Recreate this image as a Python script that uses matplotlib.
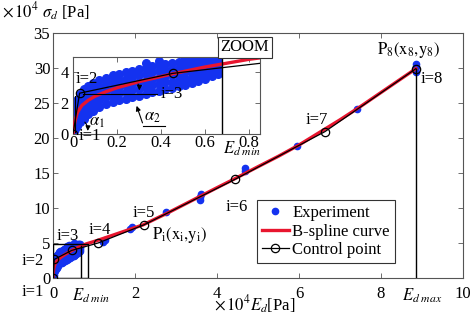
import matplotlib
matplotlib.use('Agg')
import matplotlib.pyplot as plt
from matplotlib.patches import Rectangle
import matplotlib.transforms as mtransforms

plt.rcParams['font.family'] = 'serif'
plt.rcParams['font.serif'] = ['Liberation Serif', 'DejaVu Serif']
plt.rcParams['mathtext.fontset'] = 'stix'
plt.rcParams['font.size'] = 12

# ---------------- data ----------------
# dense experimental cloud near the origin (columns of points)
exp_cloud_x = [0.000, 0.005, 0.010, 0.020, 0.030, 0.050, 0.070, 0.090, 0.120,
               0.150, 0.180, 0.210, 0.240, 0.270, 0.300, 0.330, 0.360, 0.390,
               0.420, 0.450, 0.480, 0.510, 0.540, 0.570, 0.600, 0.630, 0.660]
exp_cloud_y = [
    [0.0, 0.15, 0.3, 0.45],
    [0.2, 0.6, 1.0, 1.3],
    [0.3, 0.8, 1.2, 1.6],
    [0.5, 1.0, 1.5, 1.9, 2.2],
    [0.8, 1.3, 1.8, 2.2, 2.6],
    [1.0, 1.5, 2.0, 2.5, 2.9],
    [1.3, 1.8, 2.2, 2.7, 3.1],
    [1.5, 1.95, 2.4, 2.85, 3.3],
    [1.75, 2.2, 2.6, 3.05, 3.5],
    [1.95, 2.4, 2.8, 3.25, 3.65],
    [2.1, 2.5, 2.95, 3.4, 3.8],
    [2.2, 2.65, 3.05, 3.5, 3.9],
    [2.3, 2.75, 3.15, 3.6, 4.0],
    [2.4, 2.85, 3.25, 3.7, 4.1],
    [2.5, 2.95, 3.35, 3.8, 4.2],
    [2.6, 3.05, 3.45, 3.9, 4.3, 4.6],
    [2.7, 3.15, 3.55, 4.0, 4.4],
    [2.8, 3.25, 3.65, 4.1, 4.5, 4.75],
    [2.9, 3.35, 3.75, 4.15, 4.55],
    [3.0, 3.4, 3.8, 4.2, 4.6],
    [3.1, 3.5, 3.9, 4.3, 4.65],
    [3.2, 3.6, 4.0, 4.35, 4.7, 4.95],
    [3.3, 3.7, 4.05, 4.4, 4.75],
    [3.45, 3.8, 4.15, 4.5, 4.8],
    [3.6, 3.9, 4.25, 4.55, 4.85],
    [3.75, 4.05, 4.35, 4.6, 4.85],
    [3.9, 4.15, 4.4, 4.6, 4.8],
]
# sparse experimental points
exp_x = [1.22, 1.27, 1.88, 1.92, 2.75, 3.59, 3.59, 3.60, 4.68, 4.68, 5.95, 7.41, 8.85, 8.85, 8.85]
exp_y = [5.2, 5.5, 7.0, 7.3, 9.4, 11.2, 11.6, 12.0, 15.3, 15.7, 18.9, 24.1, 29.5, 30.1, 30.6]

# B-spline curve
curve_x = [0, 0.005, 0.01, 0.02, 0.04, 0.07, 0.1, 0.15, 0.2, 0.3, 0.45, 0.6, 0.8,
           1.1, 1.6, 2.2, 2.8, 3.4, 4.0, 4.44, 5.0, 5.5, 6.0, 6.5, 7.0, 7.5, 8.0, 8.5, 8.85]
curve_y = [0, 0.5, 0.9, 1.4, 1.85, 2.2, 2.45, 2.75, 3.0, 3.4, 3.9, 4.35, 4.85,
           5.4, 6.4, 7.6, 9.3, 11.1, 12.9, 14.2, 15.9, 17.4, 19.0, 20.8, 22.6, 24.5, 26.5, 28.5, 29.9]

# control points
cp_x = [0.0, 0.03, 0.455, 1.1, 2.22, 4.44, 6.63, 8.85]
cp_y = [0.0, 2.65, 3.94, 5.0, 7.6, 14.1, 20.9, 29.9]

e_d_min = 0.675
e_d_max = 8.85

main_xticks = [0, 2, 4, 6, 8, 10]
main_yticks = [0, 5, 10, 15, 20, 25, 30, 35]
inset_xticks = [0, 0.2, 0.4, 0.6, 0.8]
inset_xticklabels = ['0', '0.2', '0.4', '0.6', '0.8']
inset_yticks = [0, 2, 4]

BLUE = '#1432f0'
RED = '#e8152e'
SPINE = '#555555'

cloud_x = []
cloud_y = []
for cx, ys in zip(exp_cloud_x, exp_cloud_y):
    for yy in ys:
        cloud_x.append(cx)
        cloud_y.append(yy)
all_x = cloud_x + exp_x
all_y = cloud_y + exp_y

fig = plt.figure(figsize=(4.74, 3.25), dpi=100)
ax = fig.add_axes([53/474, 1-278/325, 410/474, 245/325])


def style(a, xpad, ypad):
    a.tick_params(direction='in', top=True, right=True, length=3.5, width=0.6,
                  color=SPINE, labelsize=12)
    a.tick_params(axis='x', pad=xpad)
    a.tick_params(axis='y', pad=ypad)
    for s in a.spines.values():
        s.set_color(SPINE)
        s.set_linewidth(0.8)


# ---- main axes ----
ax.plot(all_x, all_y, 'o', color=BLUE, ms=4.5, mec=BLUE, ls='none', label='Experiment', zorder=2)
ax.plot(curve_x, curve_y, '-', color=RED, lw=2.4, label='B-spline curve', zorder=3)
ax.plot(cp_x, cp_y, '-o', color='black', lw=0.9, ms=6, mfc='none', mew=0.9,
        label='Control point', zorder=4)
ax.plot([e_d_max, e_d_max], [0, cp_y[-1]], color='black', lw=1.0, zorder=4)
ax.plot([e_d_min, e_d_min], [0, 4.6], color='black', lw=1.0, zorder=4)
ax.add_patch(Rectangle((0, 0), 0.85, 4.9, fill=False, ec='black', lw=1.0, zorder=5))
ax.set_xlim(0, 10)
ax.set_ylim(0, 35)
ax.set_xticks(main_xticks)
ax.set_yticks(main_yticks)
style(ax, 6, 2)

trans = mtransforms.blended_transform_factory(ax.transData, ax.transAxes)
ax.text(0.46, -0.035, r'$E_{d\ min}$', transform=trans, ha='left', va='top', fontsize=12)
ax.text(8.51, -0.035, r'$E_{d\ max}$', transform=trans, ha='left', va='top', fontsize=12)

lab = dict(fontsize=12, ha='center', va='center', clip_on=False)
ax.text(-0.49, -2.0, 'i=1', **lab)
ax.text(-0.49, 2.4, 'i=2', **lab)
ax.text(0.37, 6.0, 'i=3', **lab)
ax.text(1.15, 6.9, 'i=4', **lab)
ax.text(2.22, 9.3, 'i=5', **lab)
ax.text(3.1, 6.2, r'$\mathrm{P_i(x_i{,}y_i)}$', **lab)
ax.text(4.49, 10.1, 'i=6', **lab)
ax.text(6.44, 22.6, 'i=7', **lab)
ax.text(8.66, 32.6, r'$\mathrm{P_8(x_8{,}y_8)}$', **lab)
ax.text(9.24, 28.4, 'i=8', **lab)

leg = ax.legend(loc='lower left', bbox_to_anchor=(0.4976, 0.061), borderaxespad=0,
                fancybox=False, edgecolor='#333333', framealpha=1, fontsize=12,
                handlelength=1.6, handletextpad=0.2, labelspacing=0.15, borderpad=0.3)
leg.get_frame().set_linewidth(0.8)

# ---- inset ----
ins = fig.add_axes([73/474, 1-134/325, 187/474, 77/325])
ins.plot(all_x, all_y, 'o', color=BLUE, ms=5.5, mec=BLUE, ls='none', zorder=2)
ins.plot(curve_x, curve_y, '-', color=RED, lw=2.4, zorder=3)
ins.plot(cp_x, cp_y, '-o', color='black', lw=0.9, ms=6, mfc='none', mew=0.9, zorder=4)
ins.plot([e_d_min, e_d_min], [0, 5], color='black', lw=1.0, zorder=4)
ins.plot([0.01, 0.01], [0.1, 2.5], color='black', lw=0.8, zorder=4)
ins.plot([0.045, 0.38], [2.62, 2.62], color='black', lw=0.8, zorder=4)
ins.set_xlim(0, 0.85)
ins.set_ylim(0, 5)
ins.set_xticks(inset_xticks)
ins.set_xticklabels(inset_xticklabels)
ins.set_yticks(inset_yticks)
style(ins, 1, 3)
itrans = mtransforms.blended_transform_factory(ins.transData, ins.transAxes)
ins.text(0.68, -0.07, r'$E_{d\ min}$', transform=itrans, ha='left', va='top', fontsize=12)

ilab = dict(fontsize=12, ha='center', va='center', clip_on=False, zorder=6)
ins.text(0.064, 3.55, 'i=2', **ilab)
ins.text(0.40, 2.6, 'i=3', fontsize=12, ha='left', va='center', zorder=6)
ins.text(0.075, -0.15, 'i=1', **ilab)
ins.text(0.11, 0.8, r'$\alpha_1$', **ilab)
ins.text(0.36, 1.1, r'$\alpha_2$', **ilab)
ins.plot([0.32, 0.42], [0.55, 0.55], color='black', lw=0.8, zorder=6)
ins.annotate('', xy=(0.285, 2.0), xytext=(0.32, 0.55),
             arrowprops=dict(arrowstyle='-|>', color='black', lw=0.8, mutation_scale=7))
ins.annotate('', xy=(0.30, 2.65), xytext=(0.29, 3.4),
             arrowprops=dict(arrowstyle='-|>', color='black', lw=0.8, mutation_scale=7,
                             connectionstyle='arc3,rad=-0.2'))
ins.annotate('', xy=(0.065, 0.02), xytext=(0.045, 0.9),
             arrowprops=dict(arrowstyle='-|>', color='black', lw=0.8, mutation_scale=7,
                             connectionstyle='arc3,rad=-0.3'))

fig.text(245/474, 1-47/325, 'ZOOM', ha='center', va='center', fontsize=12, zorder=10,
         bbox=dict(boxstyle='square,pad=0.15', fc='white', ec='#333333', lw=0.8))

fig.text(2/474, 1-12/325, r'$\times\,10^4\ \sigma_d$ [Pa]', ha='left', va='center', fontsize=12)
fig.text(255/474, 1-305/325, r'$\times\,10^4 E_d$[Pa]', ha='center', va='center', fontsize=12)

fig.savefig('out.png', dpi=100)
